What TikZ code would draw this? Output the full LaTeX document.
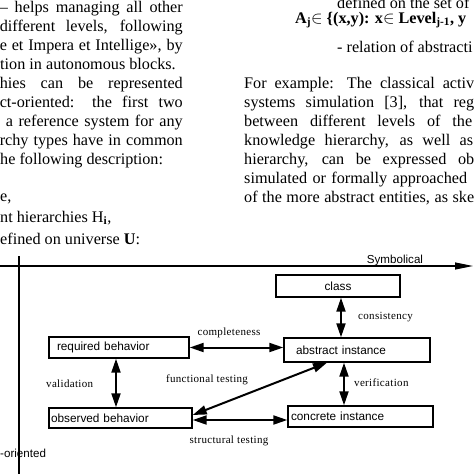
\documentclass[tikz,border=0pt]{standalone}
\usepackage{fontspec}
\setmainfont{Liberation Serif}
\setsansfont{Liberation Sans}
\newfontfamily\lblfont[LetterSpace=3]{Liberation Serif}
\usetikzlibrary{arrows.meta}
\begin{document}
\begin{tikzpicture}[x=1pt,y=-1pt,
  body/.style={anchor=base west, inner sep=0pt, font=\fontsize{16.2}{19}\selectfont},
  bodyr/.style={body, anchor=base east},
  box/.style={draw, line width=1.4pt, inner ysep=0pt, font=\sffamily\fontsize{11.8}{12}\selectfont},
  lbl/.style={font=\lblfont\fontsize{11}{12}\selectfont, inner sep=0pt, anchor=base},
  lblw/.style={lbl, anchor=base west},
  axlbl/.style={font=\sffamily\fontsize{11.6}{12}\selectfont, inner sep=0pt},
  rel/.style={{Triangle[length=14pt,width=9pt]}-{Triangle[length=14pt,width=9pt]}, line width=2pt},
  axis/.style={line width=1.1pt}
]
\useasboundingbox (0,0) rectangle (474,474);
% ---- left text column ----
\node[bodyr] (l1) at (183,12) {\makebox[183pt][s]{– helps managing all other}};
\node[bodyr] (l2) at (183,31) {\makebox[183pt][s]{different levels, following}};
\node[bodyr] (l3) at (183,50) {\makebox[183pt][s]{e et Impera et Intellige», by}};
\node[body] (l4) at (0,69) {tion in autonomous blocks.};
\node[bodyr] (l5) at (183,88) {\makebox[183pt][s]{hies can be represented}};
\node[bodyr] (l6) at (183,107) {\makebox[183pt][s]{ct-oriented: the first two}};
\node[bodyr] (l7) at (183,126) {\makebox[177pt][s]{a reference system for any}};
\node[bodyr] (l8) at (183,145) {\makebox[183pt][s]{rchy types have in common}};
\node[body] (l9) at (0,164) {he following description:};
\node[body] (l10) at (0,201) {e,};
\node[body] (l11) at (0,222) {nt hierarchies H\textsubscript{\textbf{i}},};
\node[body] (l12) at (0,244) {efined on universe \textbf{U}:};
% ---- right text column ----
\node[body] (rA) at (337,8) {defined on the set of};
\node[body] (rB) at (295,23) {\textbf{A\textsubscript{j}$\in$ \{(x,y): x$\in$ Level\textsubscript{j-1}, y}};
\node[body] (rC) at (337,52) {- relation of abstracti};
\node[body] (rD) at (244,88) {\makebox[230pt][s]{For example: The classical activ}};
\node[body] (rE) at (244,107) {\makebox[230pt][s]{systems simulation [3], that reg}};
\node[body] (rF) at (244,126) {\makebox[228pt][s]{between different levels of the}};
\node[body] (rG) at (244,145) {\makebox[229pt][s]{knowledge hierarchy, as well as}};
\node[body] (rH) at (244,164) {\makebox[230pt][s]{hierarchy, can be expressed ob}};
\node[body] (rI) at (244,183) {\makebox[223pt][s]{simulated or formally approached}};
\node[body] (rJ) at (244,202) {\makebox[230pt][s]{of the more abstract entities, as ske}};
% ---- axes ----
\coordinate (hx0) at (0,266);
\coordinate (hx1) at (473,266);
\coordinate (vy0) at (19,256);
\coordinate (vy1) at (19,474);
\draw[axis, -{Triangle[length=18pt,width=7pt]}] (hx0) -- (hx1);
\draw[axis] (vy0) -- (vy1);
\node[axlbl, anchor=base] (sym) at (395,263) {Symbolical};
\node[axlbl, anchor=base west] (obj) at (0,457) {-oriented};
% ---- boxes ----
\node[box, minimum width=124pt, minimum height=22pt, inner xsep=0pt] (cls) at (338,286) {class};
\node[box, minimum height=24pt, inner xsep=12pt, text width=122pt, align=left] (abs) at (357,350) {abstract instance};
\node[box, minimum height=21pt, inner xsep=3pt, text width=139pt, align=left] (con) at (360.5,416.5) {concrete instance};
\node[box, minimum height=21pt, inner xsep=8pt, text width=124pt, align=left] (req) at (119,347.5) {required behavior};
\node[box, minimum height=20pt, inner xsep=2pt, text width=139pt, align=left] (obs) at (120.5,418) {observed behavior};
% ---- relations ----
\draw[rel] ([xshift=3pt]cls.south) -- ([xshift=3pt]cls.south |- abs.north);
\draw[rel] (req.east) -- (req.east -| abs.west);
\draw[rel] ([xshift=-3pt]req.south) -- ([xshift=-3pt]req.south |- obs.north);
\draw[rel] ([xshift=-13pt]abs.south) -- ([xshift=-13pt]abs.south |- con.north);
\draw[rel] ([yshift=3pt]obs.east) -- ([xshift=-30pt]abs.south);
\draw[rel] ([yshift=-2pt]obs.east) -- ([yshift=-2pt]obs.east -| con.west);
% ---- relation labels ----
\node[lblw] (tcons) at (358,319) {consistency};
\node[lbl] (tcomp) at (229,335) {completeness};
\node[lblw] (tval) at (46,387) {validation};
\node[lbl] (tfun) at (207,382) {functional testing};
\node[lbl] (tstr) at (229,443) {structural testing};
\node[lblw] (tver) at (354,386) {verification};
\end{tikzpicture}
\end{document}
